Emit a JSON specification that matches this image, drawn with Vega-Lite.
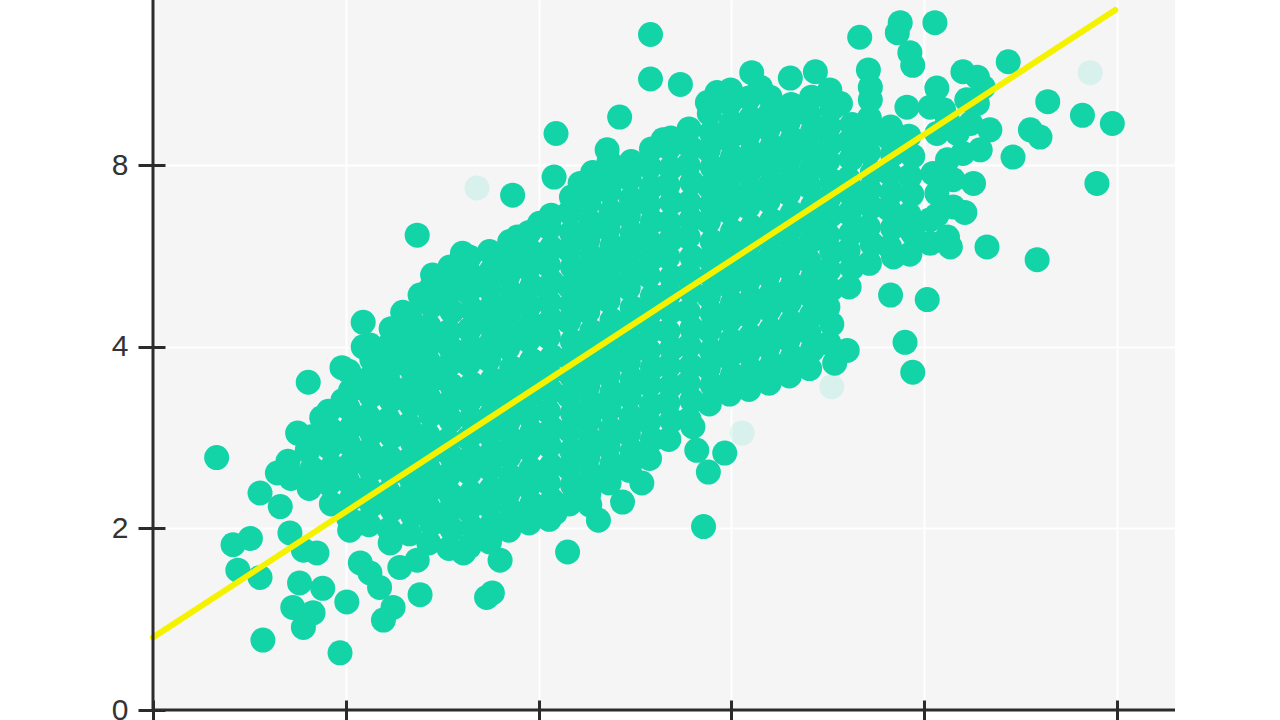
{
  "$schema": "https://vega.github.io/schema/vega-lite/v6.json",
  "width": 1022,
  "height": 710,
  "autosize": "none",
  "padding": {"left": 153, "top": 0, "right": 105, "bottom": 10},
  "background": "white",
  "datasets": {
    "faint": [
      {"x": 3.36, "y": 5.75}, {"x": 9.72, "y": 7.02}, {"x": 6.11, "y": 3.05}, {"x": 7.04, "y": 3.56}
    ],
    "fit": [
      {"x": 0, "y": 0.8}, {"x": 9.98, "y": 7.71}
    ],
    "pts": [
      {"x": 0.66, "y": 2.78}, {"x": 0.83, "y": 1.82}, {"x": 1.01, "y": 1.89}, {"x": 0.88, "y": 1.54}, {"x": 1.11, "y": 1.46},
      {"x": 1.14, "y": 0.77}, {"x": 1.94, "y": 0.63}, {"x": 1.29, "y": 2.61}, {"x": 1.11, "y": 2.39}, {"x": 1.32, "y": 2.24},
      {"x": 1.45, "y": 2.57}, {"x": 1.42, "y": 1.95}, {"x": 1.56, "y": 1.76}, {"x": 1.7, "y": 1.73}, {"x": 1.52, "y": 1.4},
      {"x": 1.45, "y": 1.13}, {"x": 1.56, "y": 0.91}, {"x": 1.66, "y": 1.07}, {"x": 1.76, "y": 1.34}, {"x": 2.01, "y": 1.19},
      {"x": 2.15, "y": 1.62}, {"x": 2.25, "y": 1.51}, {"x": 2.35, "y": 1.35}, {"x": 2.49, "y": 1.13}, {"x": 2.39, "y": 0.99},
      {"x": 2.77, "y": 1.27}, {"x": 2.46, "y": 1.84}, {"x": 2.56, "y": 1.57}, {"x": 2.74, "y": 1.65}, {"x": 2.04, "y": 1.98},
      {"x": 2.15, "y": 2.06}, {"x": 3.22, "y": 1.73}, {"x": 3.46, "y": 1.24}, {"x": 1.5, "y": 3.05}, {"x": 1.6, "y": 2.86},
      {"x": 1.75, "y": 3.22}, {"x": 1.61, "y": 3.61}, {"x": 1.97, "y": 3.41}, {"x": 1.96, "y": 3.77}, {"x": 2.18, "y": 4.0},
      {"x": 2.32, "y": 3.82}, {"x": 2.18, "y": 4.27}, {"x": 2.51, "y": 4.11}, {"x": 2.59, "y": 4.38}, {"x": 2.77, "y": 4.57},
      {"x": 2.9, "y": 4.79}, {"x": 3.21, "y": 5.03}, {"x": 2.74, "y": 5.23},
      {"x": 3.6, "y": 1.65}, {"x": 3.52, "y": 1.29}, {"x": 4.17, "y": 2.17}, {"x": 4.3, "y": 1.74}, {"x": 4.53, "y": 2.26},
      {"x": 4.62, "y": 2.09}, {"x": 4.87, "y": 2.29}, {"x": 5.07, "y": 2.5}, {"x": 5.64, "y": 2.86}, {"x": 5.6, "y": 3.12},
      {"x": 5.76, "y": 2.62}, {"x": 5.93, "y": 2.83}, {"x": 5.71, "y": 2.02}, {"x": 6.02, "y": 3.56}, {"x": 7.07, "y": 3.82},
      {"x": 7.2, "y": 3.96}, {"x": 7.65, "y": 4.57}, {"x": 8.03, "y": 4.52}, {"x": 7.8, "y": 4.05}, {"x": 7.88, "y": 3.72},
      {"x": 7.68, "y": 4.99},
      {"x": 3.73, "y": 5.67}, {"x": 4.16, "y": 5.87}, {"x": 4.18, "y": 6.35}, {"x": 4.84, "y": 6.53}, {"x": 5.16, "y": 7.44},
      {"x": 5.16, "y": 6.95}, {"x": 5.47, "y": 6.89}, {"x": 6.21, "y": 7.02}, {"x": 6.61, "y": 6.96}, {"x": 6.87, "y": 7.03},
      {"x": 7.02, "y": 6.83}, {"x": 7.13, "y": 6.68}, {"x": 7.33, "y": 7.41}, {"x": 7.72, "y": 7.46}, {"x": 7.75, "y": 7.57},
      {"x": 8.11, "y": 7.57}, {"x": 7.85, "y": 7.24}, {"x": 7.88, "y": 7.1}, {"x": 7.42, "y": 7.05}, {"x": 7.44, "y": 6.86},
      {"x": 7.44, "y": 6.72}, {"x": 7.82, "y": 6.64}, {"x": 7.65, "y": 6.42}, {"x": 8.13, "y": 6.85}, {"x": 8.2, "y": 6.61},
      {"x": 8.4, "y": 7.03}, {"x": 8.55, "y": 6.97}, {"x": 8.61, "y": 6.86}, {"x": 8.44, "y": 6.72}, {"x": 8.55, "y": 6.68},
      {"x": 8.48, "y": 6.46}, {"x": 8.68, "y": 6.39}, {"x": 8.58, "y": 6.17}, {"x": 8.4, "y": 6.13}, {"x": 8.87, "y": 7.14},
      {"x": 9.1, "y": 6.39}, {"x": 9.2, "y": 6.31}, {"x": 8.92, "y": 6.09}, {"x": 9.28, "y": 6.7}, {"x": 9.64, "y": 6.55},
      {"x": 9.95, "y": 6.46}, {"x": 9.79, "y": 5.8}, {"x": 8.51, "y": 5.8}, {"x": 8.42, "y": 5.48}, {"x": 8.13, "y": 5.45},
      {"x": 8.24, "y": 5.21}, {"x": 8.65, "y": 5.1}, {"x": 9.17, "y": 4.96}, {"x": 8.06, "y": 5.14}, {"x": 8.27, "y": 5.1},
      {"x": 8.06, "y": 6.64}, {"x": 8.24, "y": 6.5}, {"x": 8.13, "y": 6.35}, {"x": 8.34, "y": 6.35}, {"x": 8.24, "y": 6.06},
      {"x": 8.09, "y": 5.91}, {"x": 8.3, "y": 5.84}, {"x": 8.13, "y": 5.69}, {"x": 8.3, "y": 5.54}, {"x": 8.06, "y": 5.4},
      {"x": 5.85, "y": 6.8}, {"x": 5.75, "y": 6.69}, {"x": 5.99, "y": 6.83}, {"x": 6.3, "y": 6.86}, {"x": 6.4, "y": 6.75},
      {"x": 6.74, "y": 6.64}, {"x": 5.29, "y": 6.28}, {"x": 4.71, "y": 6.17}, {"x": 3.78, "y": 5.21}, {"x": 4.01, "y": 5.36},
      {"x": 4.43, "y": 5.8}, {"x": 4.56, "y": 5.92},
      {"x": 1.43, "y": 2.55}, {"x": 1.4, "y": 2.74},
      {"x": 1.62, "y": 2.44}, {"x": 1.65, "y": 2.66}, {"x": 1.61, "y": 2.86}, {"x": 1.64, "y": 3.01},
      {"x": 1.85, "y": 2.27}, {"x": 1.82, "y": 2.49}, {"x": 1.86, "y": 2.68}, {"x": 1.83, "y": 2.89}, {"x": 1.85, "y": 3.08}, {"x": 1.82, "y": 3.29},
      {"x": 2.03, "y": 2.11}, {"x": 2.06, "y": 2.33}, {"x": 2.02, "y": 2.52}, {"x": 2.05, "y": 2.71}, {"x": 2.03, "y": 2.93}, {"x": 2.06, "y": 3.12}, {"x": 2.02, "y": 3.33}, {"x": 2.05, "y": 3.52}, {"x": 2.03, "y": 3.73},
      {"x": 2.24, "y": 2.04}, {"x": 2.27, "y": 2.26}, {"x": 2.23, "y": 2.45}, {"x": 2.26, "y": 2.64}, {"x": 2.24, "y": 2.86}, {"x": 2.27, "y": 3.05}, {"x": 2.23, "y": 3.24}, {"x": 2.26, "y": 3.46}, {"x": 2.24, "y": 3.65}, {"x": 2.27, "y": 3.86}, {"x": 2.25, "y": 4.02},
      {"x": 2.45, "y": 1.99}, {"x": 2.48, "y": 2.21}, {"x": 2.44, "y": 2.4}, {"x": 2.47, "y": 2.61}, {"x": 2.45, "y": 2.79}, {"x": 2.48, "y": 3.01}, {"x": 2.44, "y": 3.2}, {"x": 2.47, "y": 3.41}, {"x": 2.45, "y": 3.6}, {"x": 2.48, "y": 3.79}, {"x": 2.44, "y": 4.01}, {"x": 2.47, "y": 4.2},
      {"x": 2.66, "y": 1.94}, {"x": 2.69, "y": 2.15}, {"x": 2.65, "y": 2.36}, {"x": 2.68, "y": 2.54}, {"x": 2.66, "y": 2.76}, {"x": 2.69, "y": 2.95}, {"x": 2.65, "y": 3.14}, {"x": 2.68, "y": 3.36}, {"x": 2.66, "y": 3.55}, {"x": 2.69, "y": 3.74}, {"x": 2.65, "y": 3.96}, {"x": 2.68, "y": 4.15}, {"x": 2.66, "y": 4.36},
      {"x": 2.86, "y": 1.84}, {"x": 2.89, "y": 2.05}, {"x": 2.85, "y": 2.24}, {"x": 2.88, "y": 2.43}, {"x": 2.86, "y": 2.65}, {"x": 2.89, "y": 2.84}, {"x": 2.85, "y": 3.03}, {"x": 2.88, "y": 3.25}, {"x": 2.86, "y": 3.44}, {"x": 2.89, "y": 3.63}, {"x": 2.85, "y": 3.85}, {"x": 2.88, "y": 4.04}, {"x": 2.86, "y": 4.23}, {"x": 2.89, "y": 4.45}, {"x": 2.87, "y": 4.63},
      {"x": 3.07, "y": 1.78}, {"x": 3.1, "y": 1.99}, {"x": 3.06, "y": 2.18}, {"x": 3.09, "y": 2.37}, {"x": 3.07, "y": 2.59}, {"x": 3.1, "y": 2.78}, {"x": 3.06, "y": 2.97}, {"x": 3.09, "y": 3.19}, {"x": 3.07, "y": 3.38}, {"x": 3.1, "y": 3.57}, {"x": 3.06, "y": 3.79}, {"x": 3.09, "y": 3.98}, {"x": 3.07, "y": 4.17}, {"x": 3.1, "y": 4.39}, {"x": 3.06, "y": 4.58}, {"x": 3.09, "y": 4.77}, {"x": 3.08, "y": 4.88},
      {"x": 3.28, "y": 1.8}, {"x": 3.31, "y": 2.01}, {"x": 3.27, "y": 2.2}, {"x": 3.3, "y": 2.39}, {"x": 3.28, "y": 2.61}, {"x": 3.31, "y": 2.8}, {"x": 3.27, "y": 2.99}, {"x": 3.3, "y": 3.21}, {"x": 3.28, "y": 3.4}, {"x": 3.31, "y": 3.59}, {"x": 3.27, "y": 3.81}, {"x": 3.3, "y": 4.0}, {"x": 3.28, "y": 4.19}, {"x": 3.31, "y": 4.41}, {"x": 3.27, "y": 4.6}, {"x": 3.3, "y": 4.79}, {"x": 3.28, "y": 4.99},
      {"x": 3.49, "y": 1.85}, {"x": 3.52, "y": 2.06}, {"x": 3.48, "y": 2.25}, {"x": 3.51, "y": 2.44}, {"x": 3.49, "y": 2.66}, {"x": 3.52, "y": 2.85}, {"x": 3.48, "y": 3.04}, {"x": 3.51, "y": 3.26}, {"x": 3.49, "y": 3.45}, {"x": 3.52, "y": 3.64}, {"x": 3.48, "y": 3.86}, {"x": 3.51, "y": 4.05}, {"x": 3.49, "y": 4.24}, {"x": 3.52, "y": 4.46}, {"x": 3.48, "y": 4.65}, {"x": 3.51, "y": 4.84}, {"x": 3.49, "y": 5.05},
      {"x": 3.69, "y": 1.98}, {"x": 3.72, "y": 2.19}, {"x": 3.68, "y": 2.38}, {"x": 3.71, "y": 2.57}, {"x": 3.69, "y": 2.79}, {"x": 3.72, "y": 2.98}, {"x": 3.68, "y": 3.17}, {"x": 3.71, "y": 3.39}, {"x": 3.69, "y": 3.58}, {"x": 3.72, "y": 3.77}, {"x": 3.68, "y": 3.99}, {"x": 3.71, "y": 4.18}, {"x": 3.69, "y": 4.37}, {"x": 3.72, "y": 4.59}, {"x": 3.68, "y": 4.78}, {"x": 3.71, "y": 4.97}, {"x": 3.7, "y": 5.16},
      {"x": 3.9, "y": 2.06}, {"x": 3.93, "y": 2.27}, {"x": 3.89, "y": 2.46}, {"x": 3.92, "y": 2.65}, {"x": 3.9, "y": 2.87}, {"x": 3.93, "y": 3.06}, {"x": 3.89, "y": 3.25}, {"x": 3.92, "y": 3.47}, {"x": 3.9, "y": 3.66}, {"x": 3.93, "y": 3.85}, {"x": 3.89, "y": 4.07}, {"x": 3.92, "y": 4.26}, {"x": 3.9, "y": 4.45}, {"x": 3.93, "y": 4.67}, {"x": 3.89, "y": 4.86}, {"x": 3.92, "y": 5.05}, {"x": 3.9, "y": 5.26},
      {"x": 4.11, "y": 2.1}, {"x": 4.14, "y": 2.31}, {"x": 4.1, "y": 2.5}, {"x": 4.13, "y": 2.69}, {"x": 4.11, "y": 2.91}, {"x": 4.14, "y": 3.1}, {"x": 4.1, "y": 3.29}, {"x": 4.13, "y": 3.51}, {"x": 4.11, "y": 3.7}, {"x": 4.14, "y": 3.89}, {"x": 4.1, "y": 4.11}, {"x": 4.13, "y": 4.3}, {"x": 4.11, "y": 4.49}, {"x": 4.14, "y": 4.71}, {"x": 4.1, "y": 4.9}, {"x": 4.13, "y": 5.09}, {"x": 4.11, "y": 5.31}, {"x": 4.13, "y": 5.45},
      {"x": 4.32, "y": 2.27}, {"x": 4.35, "y": 2.48}, {"x": 4.31, "y": 2.67}, {"x": 4.34, "y": 2.86}, {"x": 4.32, "y": 3.08}, {"x": 4.35, "y": 3.27}, {"x": 4.31, "y": 3.46}, {"x": 4.34, "y": 3.68}, {"x": 4.32, "y": 3.87}, {"x": 4.35, "y": 4.06}, {"x": 4.31, "y": 4.28}, {"x": 4.34, "y": 4.47}, {"x": 4.32, "y": 4.66}, {"x": 4.35, "y": 4.88}, {"x": 4.31, "y": 5.07}, {"x": 4.34, "y": 5.26}, {"x": 4.32, "y": 5.48}, {"x": 4.34, "y": 5.65},
      {"x": 4.52, "y": 2.38}, {"x": 4.55, "y": 2.59}, {"x": 4.51, "y": 2.78}, {"x": 4.54, "y": 2.97}, {"x": 4.52, "y": 3.19}, {"x": 4.55, "y": 3.38}, {"x": 4.51, "y": 3.57}, {"x": 4.54, "y": 3.79}, {"x": 4.52, "y": 3.98}, {"x": 4.55, "y": 4.17}, {"x": 4.51, "y": 4.39}, {"x": 4.54, "y": 4.58}, {"x": 4.52, "y": 4.77}, {"x": 4.55, "y": 4.99}, {"x": 4.51, "y": 5.18}, {"x": 4.54, "y": 5.37}, {"x": 4.52, "y": 5.59}, {"x": 4.54, "y": 5.8},
      {"x": 4.73, "y": 2.5}, {"x": 4.76, "y": 2.71}, {"x": 4.72, "y": 2.9}, {"x": 4.75, "y": 3.09}, {"x": 4.73, "y": 3.31}, {"x": 4.76, "y": 3.5}, {"x": 4.72, "y": 3.69}, {"x": 4.75, "y": 3.91}, {"x": 4.73, "y": 4.1}, {"x": 4.76, "y": 4.29}, {"x": 4.72, "y": 4.51}, {"x": 4.75, "y": 4.7}, {"x": 4.73, "y": 4.89}, {"x": 4.76, "y": 5.11}, {"x": 4.72, "y": 5.3}, {"x": 4.75, "y": 5.49}, {"x": 4.73, "y": 5.71}, {"x": 4.76, "y": 5.9}, {"x": 4.73, "y": 6.04},
      {"x": 4.94, "y": 2.64}, {"x": 4.97, "y": 2.85}, {"x": 4.93, "y": 3.04}, {"x": 4.96, "y": 3.23}, {"x": 4.94, "y": 3.45}, {"x": 4.97, "y": 3.64}, {"x": 4.93, "y": 3.83}, {"x": 4.96, "y": 4.05}, {"x": 4.94, "y": 4.24}, {"x": 4.97, "y": 4.43}, {"x": 4.93, "y": 4.65}, {"x": 4.96, "y": 4.84}, {"x": 4.94, "y": 5.03}, {"x": 4.97, "y": 5.25}, {"x": 4.93, "y": 5.44}, {"x": 4.96, "y": 5.63}, {"x": 4.94, "y": 5.85}, {"x": 4.96, "y": 6.04},
      {"x": 5.15, "y": 2.77}, {"x": 5.18, "y": 2.98}, {"x": 5.14, "y": 3.17}, {"x": 5.17, "y": 3.36}, {"x": 5.15, "y": 3.58}, {"x": 5.18, "y": 3.77}, {"x": 5.14, "y": 3.96}, {"x": 5.17, "y": 4.18}, {"x": 5.15, "y": 4.37}, {"x": 5.18, "y": 4.56}, {"x": 5.14, "y": 4.78}, {"x": 5.17, "y": 4.97}, {"x": 5.15, "y": 5.16}, {"x": 5.18, "y": 5.38}, {"x": 5.14, "y": 5.57}, {"x": 5.17, "y": 5.76}, {"x": 5.15, "y": 5.98}, {"x": 5.17, "y": 6.18},
      {"x": 5.35, "y": 2.98}, {"x": 5.38, "y": 3.19}, {"x": 5.34, "y": 3.38}, {"x": 5.37, "y": 3.57}, {"x": 5.35, "y": 3.79}, {"x": 5.38, "y": 3.98}, {"x": 5.34, "y": 4.17}, {"x": 5.37, "y": 4.39}, {"x": 5.35, "y": 4.58}, {"x": 5.38, "y": 4.77}, {"x": 5.34, "y": 4.99}, {"x": 5.37, "y": 5.18}, {"x": 5.35, "y": 5.37}, {"x": 5.38, "y": 5.59}, {"x": 5.34, "y": 5.78}, {"x": 5.37, "y": 5.97}, {"x": 5.35, "y": 6.19}, {"x": 5.37, "y": 6.3},
      {"x": 5.56, "y": 3.2}, {"x": 5.59, "y": 3.41}, {"x": 5.55, "y": 3.6}, {"x": 5.58, "y": 3.79}, {"x": 5.56, "y": 4.01}, {"x": 5.59, "y": 4.2}, {"x": 5.55, "y": 4.39}, {"x": 5.58, "y": 4.61}, {"x": 5.56, "y": 4.8}, {"x": 5.59, "y": 4.99}, {"x": 5.55, "y": 5.21}, {"x": 5.58, "y": 5.4}, {"x": 5.56, "y": 5.59}, {"x": 5.59, "y": 5.81}, {"x": 5.55, "y": 6.0}, {"x": 5.58, "y": 6.19}, {"x": 5.56, "y": 6.4},
      {"x": 5.77, "y": 3.37}, {"x": 5.8, "y": 3.58}, {"x": 5.76, "y": 3.77}, {"x": 5.79, "y": 3.96}, {"x": 5.77, "y": 4.18}, {"x": 5.8, "y": 4.37}, {"x": 5.76, "y": 4.56}, {"x": 5.79, "y": 4.78}, {"x": 5.77, "y": 4.97}, {"x": 5.8, "y": 5.16}, {"x": 5.76, "y": 5.38}, {"x": 5.79, "y": 5.57}, {"x": 5.77, "y": 5.76}, {"x": 5.8, "y": 5.98}, {"x": 5.76, "y": 6.17}, {"x": 5.79, "y": 6.36}, {"x": 5.77, "y": 6.57},
      {"x": 5.98, "y": 3.48}, {"x": 6.01, "y": 3.69}, {"x": 5.97, "y": 3.88}, {"x": 6.0, "y": 4.07}, {"x": 5.98, "y": 4.29}, {"x": 6.01, "y": 4.48}, {"x": 5.97, "y": 4.67}, {"x": 6.0, "y": 4.89}, {"x": 5.98, "y": 5.08}, {"x": 6.01, "y": 5.27}, {"x": 5.97, "y": 5.49}, {"x": 6.0, "y": 5.68}, {"x": 5.98, "y": 5.87}, {"x": 6.01, "y": 6.09}, {"x": 5.97, "y": 6.28}, {"x": 6.0, "y": 6.47}, {"x": 5.98, "y": 6.68},
      {"x": 6.18, "y": 3.53}, {"x": 6.21, "y": 3.74}, {"x": 6.17, "y": 3.93}, {"x": 6.2, "y": 4.12}, {"x": 6.18, "y": 4.34}, {"x": 6.21, "y": 4.53}, {"x": 6.17, "y": 4.72}, {"x": 6.2, "y": 4.94}, {"x": 6.18, "y": 5.13}, {"x": 6.21, "y": 5.32}, {"x": 6.17, "y": 5.54}, {"x": 6.2, "y": 5.73}, {"x": 6.18, "y": 5.92}, {"x": 6.21, "y": 6.14}, {"x": 6.17, "y": 6.33}, {"x": 6.2, "y": 6.52}, {"x": 6.18, "y": 6.74},
      {"x": 6.39, "y": 3.6}, {"x": 6.42, "y": 3.81}, {"x": 6.38, "y": 4.0}, {"x": 6.41, "y": 4.19}, {"x": 6.39, "y": 4.41}, {"x": 6.42, "y": 4.6}, {"x": 6.38, "y": 4.79}, {"x": 6.41, "y": 5.01}, {"x": 6.39, "y": 5.2}, {"x": 6.42, "y": 5.39}, {"x": 6.38, "y": 5.61}, {"x": 6.41, "y": 5.8}, {"x": 6.39, "y": 5.99}, {"x": 6.42, "y": 6.21}, {"x": 6.38, "y": 6.4}, {"x": 6.41, "y": 6.59},
      {"x": 6.6, "y": 3.68}, {"x": 6.63, "y": 3.89}, {"x": 6.59, "y": 4.08}, {"x": 6.62, "y": 4.27}, {"x": 6.6, "y": 4.49}, {"x": 6.63, "y": 4.68}, {"x": 6.59, "y": 4.87}, {"x": 6.62, "y": 5.09}, {"x": 6.6, "y": 5.28}, {"x": 6.63, "y": 5.47}, {"x": 6.59, "y": 5.69}, {"x": 6.62, "y": 5.88}, {"x": 6.6, "y": 6.07}, {"x": 6.63, "y": 6.29}, {"x": 6.59, "y": 6.48}, {"x": 6.62, "y": 6.67},
      {"x": 6.81, "y": 3.76}, {"x": 6.84, "y": 3.97}, {"x": 6.8, "y": 4.16}, {"x": 6.83, "y": 4.35}, {"x": 6.81, "y": 4.57}, {"x": 6.84, "y": 4.76}, {"x": 6.8, "y": 4.95}, {"x": 6.83, "y": 5.17}, {"x": 6.81, "y": 5.36}, {"x": 6.84, "y": 5.55}, {"x": 6.8, "y": 5.77}, {"x": 6.83, "y": 5.96}, {"x": 6.81, "y": 6.15}, {"x": 6.84, "y": 6.37}, {"x": 6.8, "y": 6.56}, {"x": 6.83, "y": 6.75},
      {"x": 7.01, "y": 4.04}, {"x": 7.04, "y": 4.25}, {"x": 7.0, "y": 4.44}, {"x": 7.03, "y": 4.63}, {"x": 7.01, "y": 4.85}, {"x": 7.04, "y": 5.04}, {"x": 7.0, "y": 5.23}, {"x": 7.03, "y": 5.45}, {"x": 7.01, "y": 5.64}, {"x": 7.04, "y": 5.83}, {"x": 7.0, "y": 6.05}, {"x": 7.03, "y": 6.24}, {"x": 7.01, "y": 6.43}, {"x": 7.04, "y": 6.62},
      {"x": 7.22, "y": 4.66}, {"x": 7.25, "y": 4.87}, {"x": 7.21, "y": 5.06}, {"x": 7.24, "y": 5.25}, {"x": 7.22, "y": 5.47}, {"x": 7.25, "y": 5.66}, {"x": 7.21, "y": 5.85}, {"x": 7.24, "y": 6.07}, {"x": 7.22, "y": 6.26}, {"x": 7.25, "y": 6.45},
      {"x": 7.43, "y": 4.92}, {"x": 7.46, "y": 5.13}, {"x": 7.42, "y": 5.32}, {"x": 7.45, "y": 5.54}, {"x": 7.43, "y": 5.73}, {"x": 7.46, "y": 5.92}, {"x": 7.42, "y": 6.14}, {"x": 7.45, "y": 6.33}, {"x": 7.43, "y": 6.52},
      {"x": 7.64, "y": 5.1}, {"x": 7.67, "y": 5.31}, {"x": 7.63, "y": 5.52}, {"x": 7.66, "y": 5.7}, {"x": 7.64, "y": 5.91}, {"x": 7.67, "y": 6.12}, {"x": 7.63, "y": 6.3},
      {"x": 7.85, "y": 5.02}, {"x": 7.88, "y": 5.25}, {"x": 7.84, "y": 5.46}, {"x": 7.87, "y": 5.68}, {"x": 7.85, "y": 5.88}, {"x": 7.88, "y": 6.1}, {"x": 7.84, "y": 6.32}
    ]
  },
  "layer": [
    {
      "data": {"name": "faint"},
      "mark": {"type": "circle", "size": 625, "color": "#12d4a7", "opacity": 0.12},
      "encoding": {
        "x": {"field": "x", "type": "quantitative"},
        "y": {"field": "y", "type": "quantitative"}
      }
    },
    {
      "data": {"name": "pts"},
      "mark": {"type": "circle", "size": 625, "color": "#12d4a7", "opacity": 1},
      "encoding": {
        "x": {
          "field": "x", "type": "quantitative",
          "scale": {"domain": [0, 10.6], "nice": false, "zero": false},
          "axis": {
            "values": [0, 2, 4, 6, 8, 10], "offset": -10, "tickSize": 28,
            "domain": false, "labels": false, "title": null
          }
        },
        "y": {
          "field": "y", "type": "quantitative",
          "scale": {"domain": [0, 7.82], "nice": false},
          "axis": {
            "values": [0, 2, 4, 6], "offset": -12, "tickSize": 27,
            "labelExpr": "datum.value == 6 ? '8' : format(datum.value, 'd')",
            "domain": false, "title": null
          }
        }
      }
    },
    {
      "data": {"name": "fit"},
      "mark": {"type": "line", "color": "#f5f200", "strokeWidth": 6, "strokeCap": "round"},
      "encoding": {
        "x": {"field": "x", "type": "quantitative"},
        "y": {"field": "y", "type": "quantitative"}
      }
    },
    {
      "data": {"values": [{}]},
      "mark": {"type": "rule", "color": "#2b2b2b", "strokeWidth": 3},
      "encoding": {"x": {"datum": 0}}
    },
    {
      "data": {"values": [{}]},
      "mark": {"type": "rule", "color": "#2b2b2b", "strokeWidth": 3},
      "encoding": {"y": {"datum": 0}}
    }
  ],
  "config": {
    "view": {"fill": "#f5f5f6", "stroke": null},
    "axis": {
      "grid": true,
      "gridColor": "#ffffff",
      "gridWidth": 2,
      "tickColor": "#2b2b2b",
      "tickWidth": 3,
      "labelFont": "Liberation Sans",
      "labelFontSize": 30,
      "labelColor": "#333333",
      "labelPadding": 10
    }
  }
}
